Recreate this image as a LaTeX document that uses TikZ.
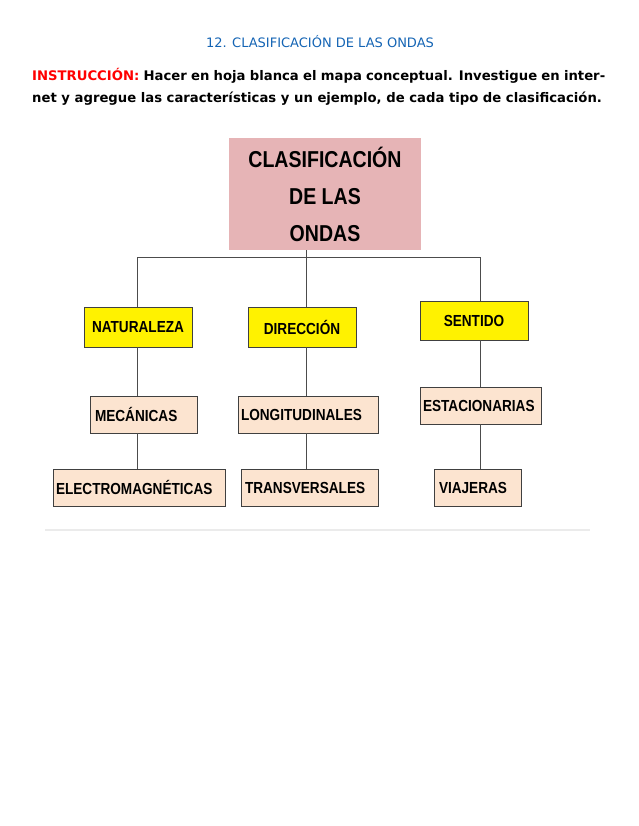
\documentclass[tikz,border=0pt]{standalone}
\usepackage{fontspec}
\setmainfont{Liberation Sans}
\newfontfamily\boxfont[FakeStretch=0.85]{Liberation Sans}
\newfontfamily\txtfont{DejaVu Sans}
\begin{document}
\begin{tikzpicture}[x=1pt,y=-1pt,
  bx/.style={draw=black!75,line width=0.7pt,inner sep=0pt,font=\boxfont\bfseries\fontsize{16}{18}\selectfont},
  yel/.style={bx,fill=yellow},
  pea/.style={bx,fill={rgb,255:red,252;green,228;blue,208}},
  ln/.style={draw=black!70,line width=0.7pt}]
\useasboundingbox (0,0) rectangle (638,826);
\node[font=\txtfont\fontsize{13}{15}\selectfont,text={rgb,255:red,20;green,100;blue,180}] (title) at (320,42) {12. CLASIFICACIÓN DE LAS ONDAS};
\node[anchor=north west,inner sep=0pt,text width=573pt,align=justify,font=\txtfont\bfseries\fontsize{13.2}{22}\selectfont] (ins) at (32,68)
 {\hyphenpenalty=10000\textcolor{red}{INSTRUCCIÓN:} Hacer en hoja blanca el mapa conceptual. Investigue en internet y agregue las características y un ejemplo, de cada tipo de clasificación.};
\node[bx,fill={rgb,255:red,230;green,180;blue,182},draw=none,minimum width=192pt,minimum height=112pt,font=\boxfont\bfseries\fontsize{23}{37}\selectfont,align=center] (root) at (325,194) {CLASIFICACIÓN\\DE LAS\\ONDAS};
\node[yel,minimum width=108pt,minimum height=40pt] (nat) at (138,327) {NATURALEZA};
\node[yel,minimum width=108pt,minimum height=40pt] (dir) at (302,327) {DIRECCIÓN};
\node[yel,minimum width=108pt,minimum height=39pt] (sen) at (474,320.5) {SENTIDO};
\node[pea,minimum width=107pt,minimum height=37pt,text width=97pt,align=left] (mec) at (143.5,414.5) {MECÁNICAS};
\node[pea,minimum width=140pt,minimum height=37pt,text width=134pt,align=left] (lon) at (308,414.5) {LONGITUDINALES};
\node[pea,minimum width=121pt,minimum height=37pt,text width=115pt,align=left] (est) at (480.5,405.5) {ESTACIONARIAS};
\node[pea,minimum width=172pt,minimum height=37pt,text width=166pt,align=left] (ele) at (139,487.5) {ELECTROMAGNÉTICAS};
\node[pea,minimum width=137pt,minimum height=37pt,text width=129pt,align=left] (tra) at (309.5,487.5) {TRANSVERSALES};
\node[pea,minimum width=87pt,minimum height=37pt,text width=77pt,align=left] (via) at (477.5,487.5) {VIAJERAS};
\coordinate (b1) at (137,257); \coordinate (b2) at (306,257); \coordinate (b3) at (480,257);
\draw[ln] (b1) -- (b3);
\draw[ln] (root.south -| b2) -- (b2);
\draw[ln] (b1) -- (nat.north -| b1);
\draw[ln] (b2) -- (dir.north -| b2);
\draw[ln] (b3) -- (sen.north -| b3);
\draw[ln] (nat.south -| b1) -- (mec.north -| b1);
\draw[ln] (mec.south -| b1) -- (ele.north -| b1);
\draw[ln] (dir.south -| b2) -- (lon.north -| b2);
\draw[ln] (lon.south -| b2) -- (tra.north -| b2);
\draw[ln] (sen.south -| b3) -- (est.north -| b3);
\draw[ln] (est.south -| b3) -- (via.north -| b3);
\draw[black!8,line width=2pt] (45,530) -- (590,530);
\end{tikzpicture}
\end{document}
